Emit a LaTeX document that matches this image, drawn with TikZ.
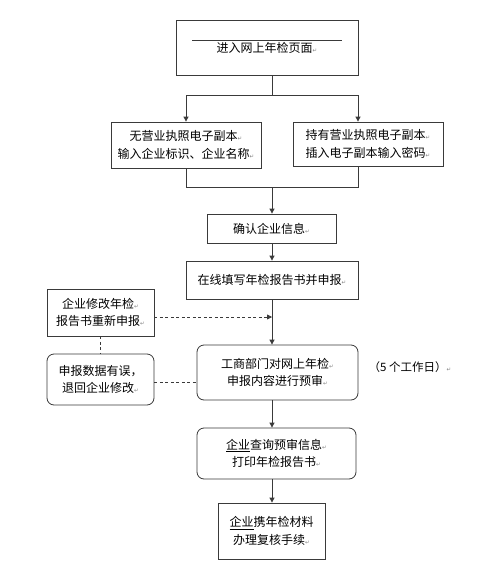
\documentclass[tikz,border=0pt]{standalone}
\usepackage{fontspec}
\setmainfont{Noto Sans CJK SC}
\newfontfamily\symf{DejaVu Sans}
\usetikzlibrary{arrows.meta}
\definecolor{ln}{HTML}{3A3A3A}
\newcommand\rt{{\symf\fontsize{5.5}{5.5}\selectfont\color{gray}↵}}
\tikzset{
  box/.style={draw=ln, line width=0.8pt, rectangle, align=center, font=\fontsize{12}{17.5}\selectfont, inner sep=0pt},
  rbox/.style={box, rounded corners=7pt},
  conn/.style={draw=ln, line width=0.8pt},
  arr/.style={conn, -{Triangle[length=5pt,width=5pt]}},
  dconn/.style={conn, dash pattern=on 3pt off 2.5pt},
}
\begin{document}
\begin{tikzpicture}[x=1pt,y=-1pt]
\useasboundingbox (0,0) rectangle (480,571);
\fill[white] (0,0) rectangle (480,571);
% nodes
\node[box, minimum width=182pt, minimum height=55pt] (b1) at (267,47.5) {\raisebox{-6pt}{进入网上年检页面\rt}};
\node[box, minimum width=150pt, minimum height=46pt] (b2) at (186,145) {无营业执照电子副本\rt\\输入企业标识、企业名称\rt};
\node[box, minimum width=150pt, minimum height=44pt] (b3) at (368,144) {持有营业执照电子副本\rt\\插入电子副本输入密码\rt};
\node[box, minimum width=129pt, minimum height=29pt] (b4) at (271.5,228.5) {确认企业信息\rt};
\node[box, minimum width=172pt, minimum height=38pt] (b5) at (272,280) {在线填写年检报告书并申报\rt};
\node[rbox, minimum width=161pt, minimum height=55pt] (b6) at (277.5,372.5) {工商部门对网上年检\rt\\申报内容进行预审\rt};
\node[box, minimum width=107pt, minimum height=47pt] (b7) at (100.5,312.5) {企业修改年检\rt\\报告书重新申报\rt};
\node[rbox, minimum width=107pt, minimum height=51pt] (b8) at (100.5,379.5) {申报数据有误，\\退回企业修改\rt};
\node[rbox, minimum width=159pt, minimum height=51pt] (b9) at (276.5,453.5) {\underline{企业}查询预审信息\rt\\打印年检报告书\rt};
\node[box, minimum width=107pt, minimum height=56pt] (b10) at (271.5,531) {\underline{企业}携年检材料\\办理复核手续\rt};
\node[font=\fontsize{11.5}{13}\selectfont, inner sep=0pt] (note) at (410,367) {（5 个工作日）\rt};
% line inside first box
\draw[conn, line width=0.6pt] (192,40) -- (342,40);
% coordinates
\coordinate (j1) at (272,95);
\coordinate (jl) at (186,95);
\coordinate (jr) at (358,95);
\coordinate (k1) at (272,187);
\coordinate (kl) at (186,187);
\coordinate (kr) at (358,187);
\coordinate (m1) at (272,317);
% connectors
\draw[conn] (b1.south -| j1) -- (j1);
\draw[conn] (jl) -- (jr);
\draw[arr] (jl) -- (b2.north -| jl);
\draw[arr] (jr) -- (b3.north -| jr);
\draw[conn] (b2.south -| kl) -- (kl) -- (kr) -- (b3.south -| kr);
\draw[arr] (k1) -- (b4.north -| k1);
\draw[arr] (b4.south -| k1) -- (b5.north -| k1);
\draw[arr] (b5.south -| k1) -- (b6.north -| k1);
\draw[dconn, -{Triangle[length=5pt,width=5pt]}] (b7.east |- m1) -- (m1);
\draw[dconn] (b7.south) -- (b8.north);
\draw[dconn] (b8.east |- 0,382) -- (b6.west |- 0,382);
\draw[arr] (b6.south -| k1) -- (b9.north -| k1);
\draw[arr] (b9.south -| k1) -- (b10.north -| k1);
\end{tikzpicture}
\end{document}
